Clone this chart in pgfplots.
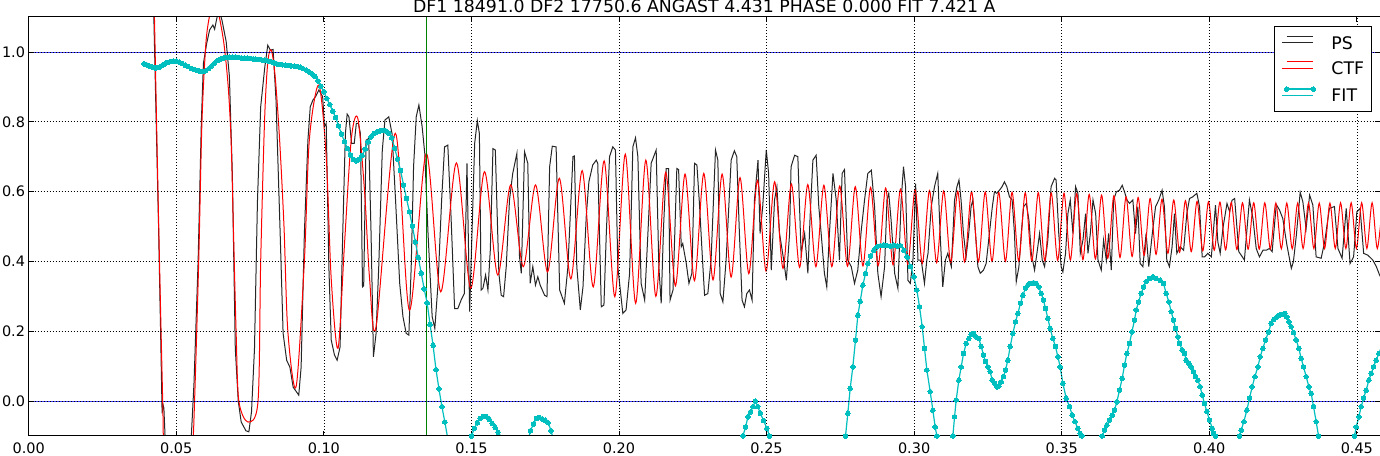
\documentclass[border=0pt]{standalone}
\usepackage{fontspec}
\setmainfont{DejaVu Sans}
\usepackage{pgfplots}
\pgfplotsset{compat=1.18}
\usepackage{pgfplotstable}
\definecolor{mplc}{rgb}{0,0.75,0.75}
\definecolor{mplg}{rgb}{0,0.5,0}
\definecolor{mplb}{rgb}{0.25,0.25,1}

% PS (rotational average of the power spectrum)
\pgfplotstableread{
s v
0.0405 1.70
0.0424 1.10
0.0440 0.50
0.0448 0.15
0.0452 -0.035
0.0455 -0.010
0.0458 -0.020
0.0463 -0.12
0.0490 -0.70
0.0535 -0.60
0.0551 -0.10
0.0560 0.05
0.0574 0.40
0.0585 0.80
0.0592 0.967
0.0603 1.024
0.0613 1.063
0.0624 1.077
0.0630 1.065
0.0637 1.095
0.0645 1.12
0.0655 1.09
0.0669 1.03
0.0680 0.93
0.0690 0.65
0.0695 0.40
0.0700 0.15
0.0710 0.00
0.0720 -0.06
0.0736 -0.085
0.0746 -0.088
0.0755 -0.030
0.0765 0.150
0.0775 0.570
0.0786 0.843
0.0800 0.957
0.0810 1.019
0.0819 1.005
0.0828 1.007
0.0838 0.862
0.0852 0.480
0.0862 0.194
0.0874 0.117
0.0885 0.097
0.0896 0.040
0.0915 0.017
0.0923 0.097
0.0934 0.480
0.0946 0.747
0.0954 0.843
0.0963 0.862
0.0972 0.872
0.0983 0.891
0.0996 0.872
0.1002 0.786
0.1008 0.795
0.1017 0.385
0.1025 0.175
0.1036 0.132
0.1045 0.117
0.1055 0.155
0.1064 0.480
0.1073 0.766
0.1079 0.822
0.1085 0.814
0.1094 0.738
0.1103 0.738
0.1110 0.795
0.1117 0.795
0.1124 0.766
0.1131 0.327
0.1135 0.330
0.1143 0.747
0.1152 0.752
0.1160 0.480
0.1168 0.127
0.1177 0.194
0.1186 0.385
0.1198 0.718
0.1207 0.805
0.1220 0.814
0.1231 0.766
0.1243 0.575
0.1257 0.337
0.1268 0.242
0.1279 0.194
0.1288 0.189
0.1296 0.385
0.1304 0.671
0.1313 0.814
0.1322 0.848
0.1333 0.786
0.1342 0.709
0.1353 0.480
0.1367 0.242
0.1376 0.208
0.1387 0.337
0.1399 0.575
0.1409 0.728
0.1420 0.733
0.1431 0.528
0.1443 0.265
0.1454 0.265
0.1465 0.289
0.1476 0.308
0.1485 0.681
0.1494 0.256
0.1511 0.738
0.1520 0.803
0.1527 0.766
0.1533 0.318
0.1539 0.323
0.1548 0.361
0.1556 0.318
0.1564 0.432
0.1573 0.723
0.1581 0.719
0.1593 0.366
0.1601 0.303
0.1609 0.299
0.1618 0.385
0.1629 0.576
0.1640 0.652
0.1654 0.709
0.1663 0.413
0.1669 0.366
0.1680 0.714
0.1691 0.681
0.1699 0.337
0.1708 0.385
0.1717 0.332
0.1725 0.356
0.1733 0.332
0.1748 0.303
0.1756 0.299
0.1765 0.671
0.1774 0.730
0.1787 0.728
0.1799 0.318
0.1815 0.280
0.1827 0.385
0.1844 0.700
0.1849 0.702
0.1857 0.385
0.1869 0.261
0.1878 0.327
0.1889 0.528
0.1898 0.628
0.1911 0.676
0.1923 0.690
0.1928 0.681
0.1940 0.270
0.1949 0.275
0.1957 0.480
0.1968 0.700
0.1979 0.728
0.1988 0.719
0.1996 0.385
0.2013 0.251
0.2024 0.261
0.2036 0.366
0.2047 0.728
0.2056 0.754
0.2064 0.700
0.2075 0.337
0.2087 0.289
0.2098 0.480
0.2109 0.681
0.2126 0.719
0.2135 0.385
0.2143 0.280
0.2151 0.499
0.2160 0.666
0.2168 0.666
0.2173 0.289
0.2183 0.318
0.2196 0.666
0.2202 0.663
0.2211 0.442
0.2216 0.451
0.2228 0.394
0.2237 0.337
0.2247 0.366
0.2256 0.681
0.2264 0.676
0.2273 0.560
0.2283 0.404
0.2290 0.303
0.2301 0.308
0.2312 0.404
0.2327 0.719
0.2335 0.690
0.2343 0.308
0.2352 0.284
0.2363 0.404
0.2380 0.690
0.2391 0.717
0.2399 0.700
0.2408 0.480
0.2417 0.289
0.2425 0.270
0.2433 0.308
0.2442 0.318
0.2451 0.289
0.2459 0.576
0.2471 0.690
0.2478 0.480
0.2487 0.557
0.2499 0.719
0.2507 0.652
0.2516 0.375
0.2527 0.576
0.2535 0.614
0.2544 0.480
0.2558 0.404
0.2567 0.346
0.2578 0.480
0.2583 0.671
0.2595 0.704
0.2606 0.700
0.2617 0.423
0.2629 0.480
0.2640 0.366
0.2648 0.537
0.2657 0.690
0.2668 0.704
0.2677 0.557
0.2685 0.480
0.2696 0.366
0.2704 0.327
0.2713 0.480
0.2725 0.652
0.2736 0.576
0.2747 0.404
0.2756 0.652
0.2764 0.663
0.2775 0.404
0.2787 0.385
0.2798 0.337
0.2809 0.375
0.2821 0.490
0.2832 0.576
0.2843 0.652
0.2855 0.661
0.2866 0.557
0.2877 0.366
0.2888 0.299
0.2900 0.385
0.2908 0.576
0.2914 0.595
0.2922 0.518
0.2934 0.366
0.2945 0.323
0.2956 0.576
0.2964 0.671
0.2971 0.614
0.2979 0.346
0.2987 0.337
0.2996 0.404
0.3005 0.623
0.3013 0.404
0.3024 0.404
0.3035 0.337
0.3043 0.404
0.3047 0.423
0.3058 0.557
0.3069 0.614
0.3080 0.652
0.3088 0.480
0.3097 0.327
0.3106 0.404
0.3114 0.423
0.3126 0.385
0.3137 0.576
0.3145 0.614
0.3152 0.633
0.3159 0.576
0.3167 0.480
0.3176 0.413
0.3185 0.480
0.3193 0.557
0.3199 0.576
0.3208 0.480
0.3216 0.385
0.3224 0.366
0.3235 0.375
0.3244 0.394
0.3255 0.480
0.3265 0.557
0.3272 0.599
0.3280 0.595
0.3289 0.604
0.3298 0.614
0.3306 0.628
0.3314 0.614
0.3323 0.585
0.3332 0.576
0.3340 0.480
0.3346 0.342
0.3355 0.385
0.3363 0.480
0.3371 0.557
0.3380 0.566
0.3389 0.518
0.3397 0.423
0.3408 0.375
0.3416 0.423
0.3425 0.480
0.3434 0.404
0.3442 0.385
0.3453 0.461
0.3464 0.614
0.3476 0.638
0.3481 0.633
0.3490 0.480
0.3498 0.385
0.3504 0.370
0.3513 0.423
0.3521 0.537
0.3529 0.576
0.3538 0.480
0.3547 0.614
0.3555 0.595
0.3563 0.423
0.3572 0.461
0.3581 0.537
0.3589 0.423
0.3597 0.480
0.3606 0.576
0.3615 0.537
0.3623 0.404
0.3634 0.375
0.3642 0.461
0.3651 0.404
0.3659 0.480
0.3668 0.375
0.3676 0.576
0.3685 0.599
0.3696 0.604
0.3705 0.618
0.3713 0.599
0.3721 0.576
0.3730 0.566
0.3741 0.576
0.3750 0.480
0.3758 0.557
0.3766 0.394
0.3775 0.385
0.3786 0.480
0.3795 0.385
0.3807 0.480
0.3818 0.557
0.3829 0.576
0.3840 0.604
0.3848 0.557
0.3856 0.404
0.3865 0.385
0.3874 0.442
0.3882 0.537
0.3890 0.423
0.3901 0.442
0.3913 0.432
0.3924 0.537
0.3933 0.580
0.3944 0.585
0.3958 0.595
0.3967 0.557
0.3976 0.413
0.3984 0.413
0.3995 0.423
0.4007 0.413
0.4021 0.561
0.4029 0.456
0.4037 0.423
0.4046 0.494
0.4060 0.566
0.4069 0.542
0.4077 0.575
0.4086 0.580
0.4100 0.428
0.4108 0.418
0.4119 0.404
0.4136 0.576
0.4148 0.523
0.4159 0.437
0.4170 0.413
0.4182 0.432
0.4193 0.432
0.4204 0.437
0.4213 0.428
0.4227 0.563
0.4238 0.547
0.4249 0.523
0.4263 0.447
0.4278 0.380
0.4285 0.399
0.4295 0.475
0.4308 0.598
0.4317 0.571
0.4328 0.494
0.4340 0.590
0.4351 0.561
0.4362 0.413
0.4379 0.409
0.4391 0.456
0.4407 0.552
0.4424 0.557
0.4436 0.437
0.4450 0.409
0.4464 0.552
0.4477 0.394
0.4489 0.413
0.4500 0.542
0.4511 0.552
0.4523 0.423
0.4537 0.418
0.4554 0.404
0.4566 0.385
0.4577 0.361
0.4590 0.340
}\pstab

% CTF (fitted model), turning points
\pgfplotstableread{
s v
0.0405 1.80
0.0418 1.40
0.0426 1.10
0.0440 0.52
0.0454 0.00
0.0462 -0.25
0.0508 -0.90
0.0552 -0.20
0.0562 0.00
0.0576 0.40
0.0587 0.80
0.0600 1.02
0.0612 1.10
0.0629 1.16
0.0646 1.10
0.0662 1.02
0.0676 0.90
0.0686 0.74
0.0694 0.48
0.0703 0.19
0.0712 0.00
0.0743 -0.06
0.0777 0.00
0.0786 0.40
0.0799 0.80
0.0810 0.97
0.0822 1.005
0.0835 0.93
0.0850 0.75
0.0865 0.50
0.0878 0.20
0.0906 0.041
0.0934 0.40
0.0951 0.75
0.0983 0.905
0.1008 0.70
0.1025 0.35
0.1048 0.151
0.1070 0.45
0.1093 0.75
0.1115 0.81
0.1138 0.60
0.1155 0.35
0.1177 0.213
0.1242 0.767
0.1290 0.260
0.1347 0.709
0.1396 0.313
0.1449 0.682
0.14977 0.323
0.15441 0.657
0.15891 0.361
0.16329 0.619
0.16757 0.385
0.17174 0.619
0.17581 0.370
0.17980 0.638
0.18370 0.350
0.18753 0.660
0.19128 0.327
0.19497 0.688
0.19859 0.299
0.20214 0.707
0.20564 0.280
0.20909 0.690
0.21248 0.300
0.21582 0.655
0.21912 0.330
0.22237 0.650
0.22557 0.345
0.22873 0.652
0.23186 0.347
0.23494 0.650
0.23799 0.355
0.24100 0.640
0.24398 0.365
0.24692 0.632
0.24984 0.372
0.25272 0.628
0.25557 0.380
0.25840 0.622
0.26119 0.383
0.26396 0.620
0.26671 0.385
0.26942 0.618
0.27212 0.385
0.27479 0.616
0.27743 0.386
0.28006 0.614
0.28266 0.387
0.28524 0.612
0.28781 0.388
0.29035 0.610
0.29287 0.390
0.29537 0.607
0.29786 0.392
0.30032 0.605
0.30277 0.394
0.30520 0.603
0.30762 0.396
0.31002 0.602
0.31240 0.397
0.31477 0.601
0.31712 0.398
0.31946 0.600
0.32178 0.399
0.32409 0.599
0.32638 0.400
0.32866 0.598
0.33093 0.400
0.33318 0.598
0.33543 0.401
0.33765 0.597
0.33987 0.401
0.34207 0.597
0.34427 0.402
0.34645 0.596
0.34862 0.403
0.35078 0.595
0.35293 0.404
0.35507 0.594
0.35719 0.405
0.35931 0.592
0.36142 0.407
0.36351 0.590
0.36560 0.409
0.36768 0.588
0.36975 0.411
0.37180 0.585
0.37385 0.414
0.37590 0.583
0.37793 0.417
0.37995 0.580
0.38197 0.420
0.38397 0.578
0.38597 0.423
0.38796 0.576
0.38994 0.426
0.39192 0.574
0.39389 0.428
0.39585 0.572
0.39780 0.430
0.39974 0.571
0.40168 0.432
0.40361 0.570
0.40553 0.433
0.40745 0.569
0.40936 0.434
0.41126 0.568
0.41316 0.435
0.41505 0.568
0.41693 0.435
0.41881 0.568
0.42068 0.436
0.42255 0.567
0.42441 0.436
0.42626 0.567
0.42811 0.436
0.42995 0.567
0.43179 0.437
0.43362 0.567
0.43544 0.437
0.43726 0.567
0.43907 0.437
0.44088 0.567
0.44269 0.437
0.44449 0.568
0.44628 0.437
0.44807 0.568
0.44985 0.437
0.45163 0.568
0.45340 0.437
0.45517 0.568
0.45693 0.437
0.45869 0.568
}\ctftab

% FIT (cross-correlation score)
\pgfplotstableread{
s v
0.039 0.966
0.040 0.963
0.041 0.959
0.042 0.956
0.043 0.954
0.044 0.955
0.045 0.960
0.046 0.965
0.047 0.970
0.048 0.972
0.049 0.974
0.050 0.974
0.051 0.971
0.052 0.967
0.053 0.962
0.054 0.958
0.055 0.953
0.056 0.950
0.057 0.947
0.058 0.945
0.059 0.944
0.060 0.946
0.061 0.952
0.062 0.960
0.063 0.968
0.064 0.975
0.065 0.979
0.066 0.982
0.067 0.984
0.068 0.985
0.069 0.985
0.070 0.985
0.071 0.984
0.072 0.983
0.073 0.982
0.074 0.982
0.075 0.981
0.076 0.980
0.077 0.979
0.078 0.978
0.079 0.977
0.080 0.976
0.081 0.974
0.082 0.972
0.083 0.969
0.084 0.966
0.085 0.964
0.086 0.963
0.087 0.962
0.088 0.961
0.089 0.960
0.090 0.959
0.091 0.958
0.092 0.956
0.093 0.952
0.094 0.948
0.095 0.943
0.096 0.937
0.097 0.930
0.098 0.917
0.099 0.902
0.100 0.886
0.101 0.866
0.102 0.849
0.103 0.830
0.104 0.812
0.105 0.788
0.106 0.765
0.107 0.743
0.108 0.723
0.109 0.705
0.110 0.692
0.111 0.688
0.112 0.693
0.113 0.703
0.114 0.722
0.115 0.742
0.116 0.757
0.117 0.766
0.118 0.771
0.119 0.774
0.120 0.775
0.121 0.774
0.122 0.767
0.123 0.754
0.124 0.724
0.125 0.693
0.126 0.660
0.127 0.619
0.128 0.580
0.129 0.542
0.130 0.501
0.131 0.456
0.132 0.411
0.133 0.366
0.134 0.321
0.135 0.281
0.136 0.219
0.137 0.160
0.138 0.090
0.139 0.035
0.140 -0.016
0.141 -0.060
0.142 -0.108
0.143 -0.160
0.149 -0.130
0.150 -0.100
0.151 -0.078
0.152 -0.062
0.153 -0.050
0.154 -0.044
0.155 -0.044
0.156 -0.052
0.157 -0.064
0.158 -0.075
0.159 -0.089
0.160 -0.101
0.161 -0.130
0.169 -0.120
0.170 -0.085
0.171 -0.066
0.172 -0.050
0.173 -0.047
0.174 -0.051
0.175 -0.055
0.176 -0.062
0.177 -0.085
0.178 -0.120
0.2415 -0.130
0.2420 -0.100
0.2429 -0.074
0.2437 -0.045
0.2446 -0.031
0.2454 -0.016
0.2462 0.000
0.2470 -0.016
0.2479 -0.035
0.2490 -0.056
0.2501 -0.078
0.2510 -0.100
0.2518 -0.130
0.2760 -0.150
0.27675 -0.100
0.27754 -0.035
0.27833 0.036
0.27923 0.098
0.28014 0.175
0.28093 0.246
0.28172 0.285
0.28262 0.332
0.28353 0.365
0.28432 0.394
0.28522 0.415
0.28635 0.432
0.28748 0.442
0.28861 0.445
0.28974 0.447
0.29087 0.445
0.29200 0.444
0.29313 0.447
0.29426 0.444
0.29539 0.445
0.29652 0.432
0.29765 0.413
0.29878 0.385
0.29991 0.356
0.30092 0.318
0.30183 0.270
0.30273 0.213
0.30352 0.151
0.30431 0.089
0.30544 0.027
0.30634 -0.026
0.30713 -0.074
0.30770 -0.100
0.30850 -0.150
0.31250 -0.150
0.31312 -0.100
0.31370 -0.045
0.31425 0.003
0.31515 0.060
0.31594 0.098
0.31673 0.136
0.31764 0.165
0.31854 0.179
0.31933 0.191
0.32012 0.194
0.32102 0.184
0.32193 0.179
0.32272 0.156
0.32351 0.132
0.32419 0.113
0.32498 0.098
0.32577 0.084
0.32645 0.060
0.32724 0.051
0.32803 0.041
0.32870 0.043
0.32949 0.055
0.33028 0.070
0.33096 0.089
0.33175 0.117
0.33254 0.156
0.33345 0.194
0.33435 0.227
0.33514 0.251
0.33604 0.280
0.33683 0.303
0.33774 0.323
0.33853 0.332
0.33943 0.337
0.34045 0.339
0.34135 0.337
0.34226 0.327
0.34305 0.308
0.34384 0.289
0.34451 0.265
0.34530 0.237
0.34609 0.208
0.34700 0.179
0.34790 0.156
0.34869 0.127
0.34948 0.098
0.35039 0.051
0.35152 0.008
0.35265 -0.016
0.35355 -0.040
0.35446 -0.059
0.35547 -0.078
0.35626 -0.093
0.35683 -0.100
0.35750 -0.150
0.36300 -0.150
0.36371 -0.100
0.36450 -0.083
0.36529 -0.069
0.36620 -0.054
0.36710 -0.040
0.36789 -0.026
0.36868 -0.002
0.36959 0.031
0.37049 0.065
0.37128 0.103
0.37207 0.136
0.37298 0.165
0.37377 0.198
0.37467 0.232
0.37524 0.261
0.37603 0.284
0.37693 0.308
0.37772 0.327
0.37862 0.342
0.37975 0.351
0.38088 0.356
0.38201 0.351
0.38337 0.346
0.38450 0.337
0.38540 0.308
0.38630 0.284
0.38709 0.256
0.38788 0.232
0.38856 0.208
0.38935 0.184
0.38992 0.165
0.39082 0.146
0.39161 0.136
0.39218 0.117
0.39308 0.108
0.39387 0.098
0.39466 0.084
0.39534 0.070
0.39613 0.060
0.39692 0.041
0.39760 0.017
0.39839 -0.007
0.39918 -0.030
0.40008 -0.054
0.40099 -0.078
0.40144 -0.093
0.40212 -0.100
0.40300 -0.150
0.40950 -0.150
0.41024 -0.100
0.41081 -0.083
0.41171 -0.059
0.41273 -0.026
0.41363 0.008
0.41454 0.041
0.41544 0.070
0.41646 0.098
0.41725 0.127
0.41815 0.151
0.41906 0.175
0.42007 0.198
0.42098 0.222
0.42188 0.234
0.42290 0.241
0.42380 0.246
0.42470 0.248
0.42561 0.251
0.42628 0.241
0.42696 0.227
0.42775 0.213
0.42854 0.196
0.42945 0.175
0.43035 0.151
0.43114 0.122
0.43193 0.098
0.43284 0.070
0.43374 0.041
0.43453 0.022
0.43532 -0.016
0.43622 -0.059
0.43701 -0.100
0.43780 -0.150
0.44850 -0.150
0.44921 -0.100
0.44978 -0.074
0.45068 -0.045
0.45147 -0.016
0.45226 0.008
0.45316 0.031
0.45407 0.060
0.45486 0.079
0.45565 0.098
0.45655 0.117
0.45745 0.136
0.45835 0.155
}\fittab

\begin{document}
\begin{tikzpicture}
\fill[white] (-28.7bp,-20bp) rectangle (1351.3bp,436bp);
\begin{axis}[
    scale only axis,
    width=1351.3bp, height=419bp,
    xmin=0, xmax=0.45785,
    ymin=-0.1, ymax=1.1,
    axis on top,
    xtick={0,0.05,0.1,0.15,0.2,0.25,0.3,0.35,0.4,0.45},
    ytick={0,0.2,0.4,0.6,0.8,1.0},
    /pgf/number format/assume math mode=true,
    xticklabel style={/pgf/number format/fixed, /pgf/number format/fixed zerofill,
        /pgf/number format/precision=2, anchor=north, inner sep=0pt, yshift=-7bp},
    yticklabel style={/pgf/number format/fixed, /pgf/number format/fixed zerofill,
        /pgf/number format/precision=1, anchor=east, inner sep=0pt, xshift=-3.5bp},
    tick label style={font=\fontsize{14.5}{17}\selectfont},
    tick align=inside,
    major tick length=4.8bp,
    tick style={black, line width=0.8bp},
    axis line style={black, line width=1bp},
    grid=major,
    major grid style={black, line width=0.6bp, dash pattern=on 1bp off 2bp},
    every axis title shift=0pt,
    title={DF1 18491.0 DF2 17750.6 ANGAST 4.431 PHASE 0.000 FIT 7.421 A},
    title style={at={(0.5,1)}, anchor=base, yshift=4.3bp, inner sep=0pt,
        font=\fontsize{17.4}{20}\selectfont},
    legend image code/.code={
        \path (0bp,0bp) -- (31.1bp,0bp);
        \draw[#1] plot coordinates {(4.5bp,6.3bp) (31.1bp,6.3bp)};
    },
    legend style={at={(1,1)}, anchor=north east, xshift=-8.3bp, yshift=-9bp,
        draw=black, line width=0.8bp, fill=white,
        inner xsep=7.2bp, inner ysep=9.5bp,
        row sep=12.3bp, column sep=15.9bp,
        font=\fontsize{17.4}{20}\selectfont,
        nodes={inner sep=0pt, text height=12.7bp, text depth=0bp},
        cells={anchor=west}},
]
\addplot[mplb, line width=0.7bp, forget plot] coordinates {(0,1) (0.46,1)};
\addplot[mplb, line width=0.7bp, forget plot] coordinates {(0,0) (0.46,0)};
\addplot[black!85, line width=1bp] table {\pstab};
\addplot[red, line width=1bp, smooth] table {\ctftab};
\addplot[mplg, line width=1.3bp, forget plot] coordinates {(0.1348,-0.1) (0.1348,1.1)};
\addplot[mplc, line width=1.2bp, mark=*, mark size=2.3bp,
    mark options={draw=mplc, fill=mplc, line width=0pt}] table {\fittab};
\legend{PS, CTF, FIT}
\end{axis}
\pgfresetboundingbox
\path[use as bounding box] (-28.7bp,-20bp) rectangle (1351.3bp,436bp);
\end{tikzpicture}
\end{document}
